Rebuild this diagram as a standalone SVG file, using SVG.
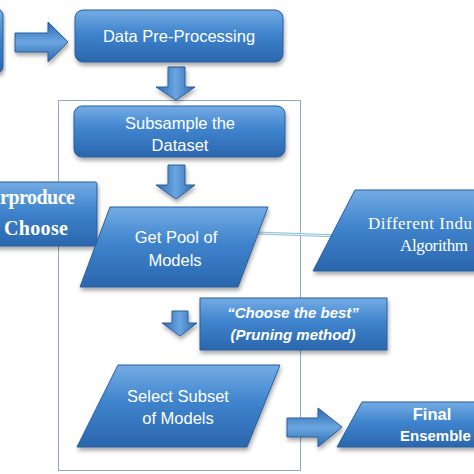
<svg xmlns="http://www.w3.org/2000/svg" width="474" height="474" viewBox="0 0 474 474">
<defs>
<linearGradient id="g" x1="0" y1="0" x2="0" y2="1">
<stop offset="0" stop-color="#74ace4"/>
<stop offset="0.45" stop-color="#3f84cd"/>
<stop offset="1" stop-color="#2a66ad"/>
</linearGradient>
<linearGradient id="ga" x1="0" y1="0" x2="1" y2="0">
<stop offset="0" stop-color="#2c6ab2"/>
<stop offset="0.5" stop-color="#6aa5e0"/>
<stop offset="1" stop-color="#2c6ab2"/>
</linearGradient>
<linearGradient id="gh" x1="0" y1="0" x2="0" y2="1">
<stop offset="0" stop-color="#2c6ab2"/>
<stop offset="0.5" stop-color="#6aa5e0"/>
<stop offset="1" stop-color="#2c6ab2"/>
</linearGradient>
<filter id="sh" x="-10%" y="-10%" width="130%" height="140%">
<feDropShadow dx="1" dy="3" stdDeviation="2" flood-color="#000" flood-opacity="0.35"/>
</filter>
</defs>
<style>
.n{fill:url(#g);stroke:#2b5f9c;stroke-width:1;filter:url(#sh)}
.av{fill:url(#ga);stroke:#2b5f9c;stroke-width:1;filter:url(#sh)}
.ah{fill:url(#gh);stroke:#2b5f9c;stroke-width:1;filter:url(#sh)}
.t{font-family:"Liberation Sans",Arial,sans-serif;font-size:16.5px;fill:#fff;text-anchor:middle}
.b{font-weight:bold}
.i{font-style:italic;font-weight:bold;font-size:15px}
.s{font-family:"Liberation Serif","Times New Roman",serif;fill:#fff}
</style>
<rect x="0" y="0" width="474" height="474" fill="#fff"/>
<rect id="frame" x="58.5" y="100.5" width="242" height="370" fill="none" stroke="#8fa9c9" stroke-width="1"/>
<g id="connectors">
<path class="ah" d="M15 33 H48 V22 L68 42 L48 62 V52 H15 Z"/>
<path class="av" d="M168 67 H185 V87 H195 L176 100 L156 87 H168 Z"/>
<path class="av" d="M168 165 H185 V185 H195 L176 199 L156 185 H168 Z"/>
<path class="av" d="M172 311 H188 V323 H197 L180 336 L162 323 H172 Z"/>
<path class="ah" d="M287 418 H318 V408 L342 427 L318 447 V437 H287 Z"/>
<path d="M257 233 L340 236" stroke="#8fc1d6" stroke-width="3" fill="none"/>
<path d="M257 233 L340 236" stroke="#e8f4f8" stroke-width="1" fill="none"/>
</g>
<g id="n0"><rect class="n" x="-10" y="9" width="13" height="64" rx="6"/></g>
<g id="n1"><rect class="n" x="75" y="10" width="208" height="52" rx="8"/>
<text class="t" x="179" y="42">Data Pre-Processing</text></g>
<g id="n2"><rect class="n" x="74" y="106" width="211" height="51" rx="8"/>
<text class="t" x="180" y="129">Subsample the</text>
<text class="t" x="180" y="151">Dataset</text></g>
<g id="n3"><rect class="n" x="-10" y="182" width="107" height="64" rx="2"/>
<text class="s b" x="0" y="204" font-size="20" textLength="75">rproduce</text>
<text class="s b" x="4" y="235" font-size="20" textLength="64">Choose</text></g>
<g id="n4"><path class="n" d="M110 207 H268 L238 287 H80 Z"/>
<text class="t" x="176" y="243">Get Pool of</text>
<text class="t" x="175" y="266">Models</text></g>
<g id="n5"><path class="n" d="M355 190 H480 V271 H313 Z"/>
<text class="s" x="368" y="229" font-size="17" textLength="104">Different Indu</text>
<text class="s" x="400" y="251" font-size="17" textLength="68">Algorithm</text></g>
<g id="n6"><rect class="n" x="200" y="298" width="187" height="52"/>
<text class="t i" x="293" y="318">“Choose the best”</text>
<text class="t i" x="293" y="340">(Pruning method)</text></g>
<g id="n7"><path class="n" d="M118 365 H280 L247 447 H77 Z"/>
<text class="t" x="178" y="402">Select Subset</text>
<text class="t" x="178" y="424">of Models</text></g>
<g id="n8"><path class="n" d="M362 402 H480 V447 H337 Z"/>
<text class="t b" x="432" y="420" font-size="16">Final</text>
<text class="t b" x="400" y="441" style="text-anchor:start;font-size:15px">Ensemble</text></g>
</svg>
